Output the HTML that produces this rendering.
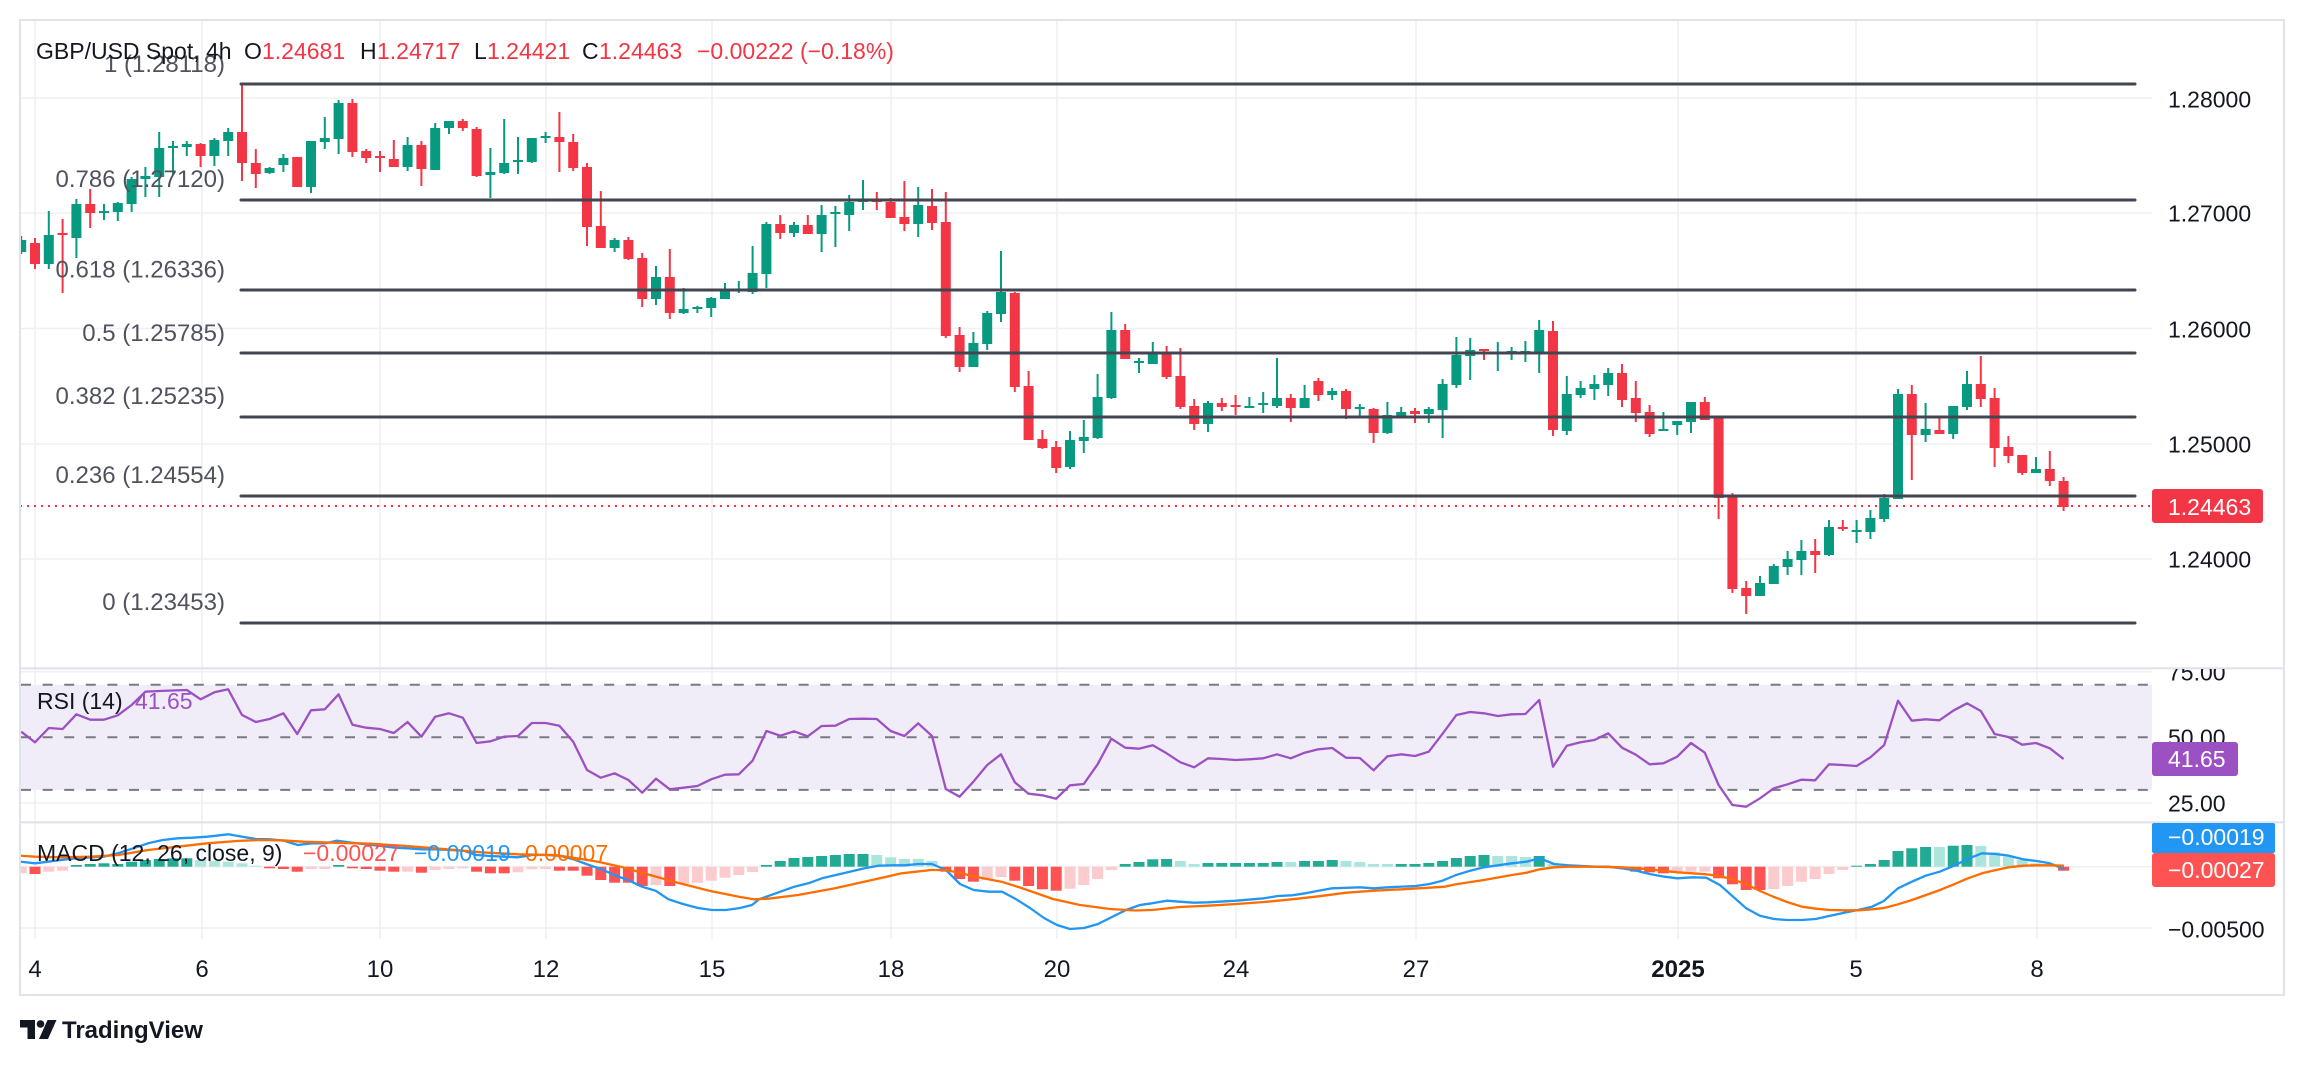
<!DOCTYPE html>
<html><head><meta charset="utf-8"><style>html,body{margin:0;padding:0;background:#fff;}svg{display:block;}text{font-family:"Liberation Sans",Arial,sans-serif;}</style></head><body>
<svg width="2304" height="1066" viewBox="0 0 2304 1066" xmlns="http://www.w3.org/2000/svg">
<defs>
<clipPath id="cm"><rect x="21" y="21" width="2131" height="647"/></clipPath>
<clipPath id="cr"><rect x="21" y="669" width="2262" height="153"/></clipPath>
<clipPath id="cd"><rect x="21" y="823" width="2131" height="116"/></clipPath>
</defs>
<rect width="2304" height="1066" fill="#fff"/>
<!-- grid -->
<path d="M35 21V939M202 21V939M380 21V939M546 21V939M712 21V939M891 21V939M1057 21V939M1236 21V939M1416 21V939M1678 21V939M1856 21V939M2037 21V939" stroke="#eef0f3" stroke-width="1.6" fill="none"/>
<path d="M21 98H2152M21 213H2152M21 328.5H2152M21 444H2152M21 559H2152M21 671.7H2152M21 803H2152M21 866.7H2152M21 928H2152" stroke="#eef0f3" stroke-width="1.6" fill="none"/>
<!-- RSI band -->
<rect x="21" y="684.8" width="2131" height="105.1" fill="#f1edf8"/>
<path d="M21 684.8H2152M21 737.3H2152M21 789.9H2152" stroke="#787b86" stroke-width="2" stroke-dasharray="10 11.6" fill="none"/>
<!-- frame & separators -->
<rect x="20" y="20" width="2264" height="975" fill="none" stroke="#e0e3eb" stroke-width="2"/>
<path d="M20 668.3H2284M20 822.3H2284" stroke="#e0e3eb" stroke-width="2.2"/>
<g clip-path="url(#cm)">
<path d="M20 506H2152" stroke="#f23645" stroke-width="2" stroke-dasharray="2 5"/>
<path fill="#089981" d="M20.2 236h2V254h-2ZM16.2 240h10V252h-10ZM47.8 211h2V269h-2ZM43.8 235h10V264h-10ZM75.4 199h2V258h-2ZM71.4 204h10V238h-10ZM103 204h2V220h-2ZM99 211h10V213h-10ZM116.8 202h2V221h-2ZM112.8 203h10V212h-10ZM130.6 177h2V212h-2ZM126.6 179h10V204h-10ZM144.4 167h2V197h-2ZM140.4 176h10V179h-10ZM158.2 132h2V197h-2ZM154.2 148h10V177h-10ZM172 141h2V175h-2ZM168 146h10V148h-10ZM185.8 141h2V156h-2ZM181.8 144h10V147h-10ZM213.4 138h2V166h-2ZM209.4 140h10V156h-10ZM227.2 128h2V156h-2ZM223.2 132h10V141h-10ZM268.6 167h2V174h-2ZM264.6 168h10V173h-10ZM282.4 154h2V172h-2ZM278.4 158h10V165h-10ZM310 141h2V193h-2ZM306 141h10V187h-10ZM323.8 117h2V149h-2ZM319.8 138h10V142h-10ZM337.6 100h2V154h-2ZM333.6 103h10V139h-10ZM406.6 137h2V171h-2ZM402.6 145h10V167h-10ZM434.2 123h2V170h-2ZM430.2 128h10V170h-10ZM448 121h2V134h-2ZM444 121h10V128h-10ZM489.4 148h2V198h-2ZM485.4 172h10V175h-10ZM503.2 119h2V174h-2ZM499.2 163h10V173h-10ZM517 137h2V174h-2ZM513 160h10V162h-10ZM530.8 138h2V163h-2ZM526.8 138h10V162h-10ZM544.6 132h2V143h-2ZM540.6 136h10V138h-10ZM613.6 238h2V252h-2ZM609.6 240h10V248h-10ZM655 266h2V305h-2ZM651 277h10V299h-10ZM682.6 288h2V314h-2ZM678.6 309h10V313h-10ZM696.4 306h2V313h-2ZM692.4 307h10V309h-10ZM710.2 297h2V317h-2ZM706.2 298h10V308h-10ZM724 283h2V299h-2ZM720 291h10V299h-10ZM737.8 281h2V293h-2ZM733.8 289h10V291h-10ZM751.6 246h2V294h-2ZM747.6 273h10V292h-10ZM765.4 222h2V288h-2ZM761.4 224h10V274h-10ZM793 222h2V237h-2ZM789 225h10V233h-10ZM820.6 205h2V252h-2ZM816.6 215h10V234h-10ZM834.4 206h2V247h-2ZM830.4 212h10V214h-10ZM848.2 195h2V231h-2ZM844.2 202h10V215h-10ZM862 180h2V210h-2ZM858 200h10V202h-10ZM917.2 187h2V237h-2ZM913.2 205h10V224h-10ZM972.4 332h2V367h-2ZM968.4 343h10V367h-10ZM986.2 311h2V350h-2ZM982.2 313h10V344h-10ZM1000 251h2V322h-2ZM996 292h10V314h-10ZM1069 431h2V469h-2ZM1065 440h10V467h-10ZM1082.8 420h2V453h-2ZM1078.8 437h10V441h-10ZM1096.6 374h2V439h-2ZM1092.6 397h10V438h-10ZM1110.4 312h2V399h-2ZM1106.4 330h10V398h-10ZM1138 358h2V373h-2ZM1134 361h10V363h-10ZM1151.8 342h2V364h-2ZM1147.8 354h10V364h-10ZM1207 401h2V432h-2ZM1203 403h10V424h-10ZM1248.4 397h2V408h-2ZM1244.4 406h10V408h-10ZM1262.2 392h2V413h-2ZM1258.2 403h10V405h-10ZM1276 358h2V408h-2ZM1272 398h10V406h-10ZM1303.6 385h2V408h-2ZM1299.6 398h10V408h-10ZM1331.2 388h2V400h-2ZM1327.2 391h10V395h-10ZM1358.8 404h2V416h-2ZM1354.8 407h10V409h-10ZM1386.4 402h2V434h-2ZM1382.4 415h10V433h-10ZM1400.2 407h2V417h-2ZM1396.2 412h10V416h-10ZM1427.8 407h2V423h-2ZM1423.8 409h10V414h-10ZM1441.6 379h2V438h-2ZM1437.6 384h10V410h-10ZM1455.4 337h2V388h-2ZM1451.4 355h10V385h-10ZM1469.2 338h2V380h-2ZM1465.2 350h10V356h-10ZM1496.8 342h2V371h-2ZM1492.8 352h10V354h-10ZM1510.6 347h2V360h-2ZM1506.6 351h10V353h-10ZM1524.4 341h2V362h-2ZM1520.4 351h10V353h-10ZM1538.2 320h2V373h-2ZM1534.2 330h10V353h-10ZM1565.8 376h2V435h-2ZM1561.8 394h10V431h-10ZM1579.6 381h2V398h-2ZM1575.6 388h10V395h-10ZM1593.4 375h2V400h-2ZM1589.4 384h10V389h-10ZM1607.2 368h2V396h-2ZM1603.2 373h10V385h-10ZM1662.4 412h2V431h-2ZM1658.4 429h10V431h-10ZM1676.2 421h2V435h-2ZM1672.2 421h10V425h-10ZM1690 402h2V433h-2ZM1686 402h10V422h-10ZM1759 576h2V596h-2ZM1755 583h10V596h-10ZM1772.8 564h2V584h-2ZM1768.8 566h10V584h-10ZM1786.6 551h2V575h-2ZM1782.6 559h10V567h-10ZM1800.4 540h2V575h-2ZM1796.4 551h10V560h-10ZM1828 520h2V556h-2ZM1824 527h10V555h-10ZM1855.6 520h2V543h-2ZM1851.6 530h10V532h-10ZM1869.4 510h2V539h-2ZM1865.4 518h10V532h-10ZM1883.2 494h2V522h-2ZM1879.2 498h10V519h-10ZM1897 389h2V499h-2ZM1893 394h10V499h-10ZM1924.6 403h2V442h-2ZM1920.6 429h10V435h-10ZM1952.2 406h2V439h-2ZM1948.2 406h10V434h-10ZM1966 371h2V410h-2ZM1962 384h10V407h-10ZM2035 457h2V473h-2ZM2031 469h10V473h-10Z"/>
<path fill="#f23645" d="M34 238h2V269h-2ZM30 243h10V264h-10ZM61.6 219h2V293h-2ZM57.6 233h10V235h-10ZM89.2 189h2V228h-2ZM85.2 204h10V213h-10ZM199.6 143h2V167h-2ZM195.6 144h10V156h-10ZM241 84h2V181h-2ZM237 132h10V163h-10ZM254.8 149h2V188h-2ZM250.8 163h10V174h-10ZM296.2 157h2V187h-2ZM292.2 157h10V187h-10ZM351.4 99h2V157h-2ZM347.4 103h10V152h-10ZM365.2 149h2V163h-2ZM361.2 151h10V158h-10ZM379 151h2V172h-2ZM375 156h10V158h-10ZM392.8 140h2V167h-2ZM388.8 159h10V167h-10ZM420.4 141h2V186h-2ZM416.4 145h10V169h-10ZM461.8 119h2V131h-2ZM457.8 121h10V128h-10ZM475.6 127h2V177h-2ZM471.6 129h10V176h-10ZM558.4 112h2V172h-2ZM554.4 137h10V142h-10ZM572.2 134h2V171h-2ZM568.2 142h10V168h-10ZM586 163h2V246h-2ZM582 167h10V227h-10ZM599.8 191h2V248h-2ZM595.8 226h10V248h-10ZM627.4 237h2V260h-2ZM623.4 240h10V259h-10ZM641.2 253h2V307h-2ZM637.2 258h10V299h-10ZM668.8 249h2V319h-2ZM664.8 277h10V313h-10ZM779.2 215h2V239h-2ZM775.2 224h10V233h-10ZM806.8 215h2V234h-2ZM802.8 225h10V234h-10ZM875.8 192h2V210h-2ZM871.8 200h10V202h-10ZM889.6 198h2V218h-2ZM885.6 202h10V218h-10ZM903.4 181h2V231h-2ZM899.4 217h10V224h-10ZM931 189h2V230h-2ZM927 206h10V223h-10ZM944.8 192h2V338h-2ZM940.8 222h10V336h-10ZM958.6 327h2V372h-2ZM954.6 335h10V367h-10ZM1013.8 292h2V392h-2ZM1009.8 293h10V387h-10ZM1027.6 371h2V440h-2ZM1023.6 386h10V440h-10ZM1041.4 430h2V449h-2ZM1037.4 439h10V448h-10ZM1055.2 441h2V473h-2ZM1051.2 447h10V468h-10ZM1124.2 324h2V359h-2ZM1120.2 330h10V359h-10ZM1165.6 346h2V379h-2ZM1161.6 354h10V377h-10ZM1179.4 348h2V409h-2ZM1175.4 376h10V407h-10ZM1193.2 399h2V430h-2ZM1189.2 406h10V424h-10ZM1220.8 398h2V411h-2ZM1216.8 403h10V407h-10ZM1234.6 395h2V415h-2ZM1230.6 405h10V407h-10ZM1289.8 394h2V422h-2ZM1285.8 398h10V408h-10ZM1317.4 378h2V401h-2ZM1313.4 381h10V395h-10ZM1345 389h2V419h-2ZM1341 391h10V409h-10ZM1372.6 408h2V443h-2ZM1368.6 409h10V433h-10ZM1414 408h2V423h-2ZM1410 411h10V414h-10ZM1483 349h2V360h-2ZM1479 349h10V351h-10ZM1552 321h2V436h-2ZM1548 331h10V430h-10ZM1621 364h2V407h-2ZM1617 373h10V400h-10ZM1634.8 381h2V422h-2ZM1630.8 398h10V413h-10ZM1648.6 405h2V437h-2ZM1644.6 412h10V434h-10ZM1703.8 397h2V420h-2ZM1699.8 402h10V420h-10ZM1717.6 416h2V519h-2ZM1713.6 418h10V498h-10ZM1731.4 493h2V593h-2ZM1727.4 497h10V589h-10ZM1745.2 581h2V614h-2ZM1741.2 588h10V596h-10ZM1814.2 539h2V573h-2ZM1810.2 551h10V555h-10ZM1841.8 520h2V531h-2ZM1837.8 527h10V529h-10ZM1910.8 385h2V480h-2ZM1906.8 394h10V435h-10ZM1938.4 416h2V434h-2ZM1934.4 430h10V434h-10ZM1979.8 356h2V407h-2ZM1975.8 384h10V399h-10ZM1993.6 388h2V467h-2ZM1989.6 398h10V448h-10ZM2007.4 436h2V463h-2ZM2003.4 447h10V456h-10ZM2021.2 455h2V475h-2ZM2017.2 455h10V473h-10ZM2048.8 451h2V486h-2ZM2044.8 469h10V481h-10ZM2062.6 477h2V511h-2ZM2058.6 481h10V507h-10Z"/>
<path d="M241 84H2135M241 200H2135M241 290H2135M241 353H2135M241 417H2135M241 496H2135M241 623H2135" stroke="#434651" stroke-width="3" stroke-linecap="round" fill="none"/>
</g>
<!-- fib labels -->
<g font-size="24" fill="#50535e" text-anchor="end">
<text x="225" y="72">1 (1.28118)</text>
<text x="225" y="187">0.786 (1.27120)</text>
<text x="225" y="277.5">0.618 (1.26336)</text>
<text x="225" y="341">0.5 (1.25785)</text>
<text x="225" y="404">0.382 (1.25235)</text>
<text x="225" y="483">0.236 (1.24554)</text>
<text x="225" y="610">0 (1.23453)</text>
</g>
<!-- header -->
<g font-size="23">
<text x="36" y="59" fill="#131722">GBP/USD Spot, 4h</text>
<text x="244" y="59" fill="#131722">O</text><text x="262" y="59" fill="#f23645">1.24681</text>
<text x="360" y="59" fill="#131722">H</text><text x="377" y="59" fill="#f23645">1.24717</text>
<text x="474" y="59" fill="#131722">L</text><text x="487" y="59" fill="#f23645">1.24421</text>
<text x="582" y="59" fill="#131722">C</text><text x="599" y="59" fill="#f23645">1.24463</text>
<text x="697" y="59" fill="#f23645">−0.00222 (−0.18%)</text>
</g>
<!-- RSI -->
<g clip-path="url(#cr)">
<polyline fill="none" stroke="#9c51c2" stroke-width="2.3" stroke-linejoin="round" points="21.2,731.7 35,742.3 48.8,728 62.6,729 76.4,714.3 90.2,719.7 104,719.7 117.8,715.3 131.6,705 145.4,691.7 159.2,691 173,690.5 186.8,690 200.6,699.3 214.4,692.3 228.2,689.3 242,715 255.8,722 269.6,719 283.4,713.3 297.2,734 311,710.3 324.8,709.3 338.6,694.3 352.4,724.7 366.2,727.7 380,729 393.8,733 407.6,722 421.4,736.7 435.2,716.7 449,713.3 462.8,717.7 476.6,743 490.4,741.3 504.2,736.7 518,736 531.8,723 545.6,723 559.4,725.7 573.2,741.7 587,770 600.8,777.7 614.6,773.3 628.4,780 642.2,792.7 656,778.7 669.8,789.3 683.6,787.7 697.4,786 711.2,779.3 725,774.7 738.8,774.3 752.6,760.7 766.4,731 780.2,735.7 794,731.3 807.8,736.3 821.6,726 835.4,725.7 849.2,719 863,718.7 876.8,719 890.6,731 904.4,736 918.2,723.3 932,736 945.8,789 959.6,796.7 973.4,781.7 987.2,765 1001,754.3 1014.8,782.3 1028.6,793.7 1042.4,795.3 1056.2,798.7 1070,785.3 1083.8,784 1097.6,764.3 1111.4,738.7 1125.2,747.7 1139,748.7 1152.8,745.3 1166.6,753.3 1180.4,762.3 1194.2,767.3 1208,758.3 1221.8,759 1235.6,760 1249.4,759.3 1263.2,758.3 1277,754.3 1290.8,758.3 1304.6,752.7 1318.4,749.3 1332.2,748 1346,757.7 1359.8,758 1373.6,770.3 1387.4,756.3 1401.2,754.3 1415,756 1428.8,751.7 1442.6,733.7 1456.4,715 1470.2,712 1484,713.3 1497.8,716 1511.6,714.3 1525.4,714 1539.2,700 1553,766.7 1566.8,745.7 1580.6,742.3 1594.4,740 1608.2,733.3 1622,747.7 1635.8,754.7 1649.6,764.3 1663.4,763.3 1677.2,756.7 1691,743 1704.8,752.7 1718.6,785 1732.4,805 1746.2,806.7 1760,798.3 1773.8,788.3 1787.6,784.3 1801.4,779.7 1815.2,780.3 1829,764.3 1842.8,765 1856.6,766 1870.4,757.3 1884.2,745 1898,700.7 1911.8,720.7 1925.6,719.3 1939.4,720.3 1953.2,710.7 1967,703.3 1980.8,711 1994.6,734 2008.4,737 2022.2,744.7 2036,743 2049.8,748.3 2063.6,759"/>
<g font-size="23" fill="#131722">
<text x="2168" y="680.7">75.00</text>
<text x="2168" y="745.5">50.00</text>
<text x="2168" y="811.7">25.00</text>
</g>
<rect x="2152" y="742" width="86" height="34" rx="3" fill="#9c51c2"/>
<text x="2168" y="767" font-size="23" fill="#fff">41.65</text>
</g>
<text x="37" y="709" font-size="23" fill="#131722">RSI (14)</text>
<text x="135" y="709" font-size="23" fill="#9c51c2">41.65</text>
<!-- MACD -->
<g clip-path="url(#cd)">
<g fill="#22ab94">
<rect x="70.9" y="865" width="11" height="1.7"/><rect x="84.7" y="864" width="11" height="2.7"/><rect x="98.5" y="863.3" width="11" height="3.4"/><rect x="112.3" y="864" width="11" height="2.7"/><rect x="126.1" y="861.7" width="11" height="5"/><rect x="139.9" y="860" width="11" height="6.7"/><rect x="153.7" y="859" width="11" height="7.7"/><rect x="167.5" y="858.3" width="11" height="8.4"/><rect x="181.3" y="858.3" width="11" height="8.4"/><rect x="333.1" y="865" width="11" height="1.7"/><rect x="760.9" y="865" width="11" height="1.7"/><rect x="774.7" y="861" width="11" height="5.7"/><rect x="788.5" y="858" width="11" height="8.7"/><rect x="802.3" y="857" width="11" height="9.7"/><rect x="816.1" y="856" width="11" height="10.7"/><rect x="829.9" y="855" width="11" height="11.7"/><rect x="843.7" y="854" width="11" height="12.7"/><rect x="857.5" y="854" width="11" height="12.7"/><rect x="1119.7" y="864" width="11" height="2.7"/><rect x="1133.5" y="862" width="11" height="4.7"/><rect x="1147.3" y="859.3" width="11" height="7.4"/><rect x="1161.1" y="859" width="11" height="7.7"/><rect x="1202.5" y="863" width="11" height="3.7"/><rect x="1216.3" y="863" width="11" height="3.7"/><rect x="1230.1" y="863" width="11" height="3.7"/><rect x="1243.9" y="863" width="11" height="3.7"/><rect x="1257.7" y="863" width="11" height="3.7"/><rect x="1271.5" y="862" width="11" height="4.7"/><rect x="1299.1" y="861" width="11" height="5.7"/><rect x="1312.9" y="861" width="11" height="5.7"/><rect x="1326.7" y="860" width="11" height="6.7"/><rect x="1395.7" y="864" width="11" height="2.7"/><rect x="1409.5" y="864" width="11" height="2.7"/><rect x="1423.3" y="863" width="11" height="3.7"/><rect x="1437.1" y="861" width="11" height="5.7"/><rect x="1450.9" y="858" width="11" height="8.7"/><rect x="1464.7" y="856" width="11" height="10.7"/><rect x="1478.5" y="855" width="11" height="11.7"/><rect x="1533.7" y="856" width="11" height="10.7"/><rect x="1851.1" y="865.7" width="11" height="1"/><rect x="1864.9" y="864" width="11" height="2.7"/><rect x="1878.7" y="860" width="11" height="6.7"/><rect x="1892.5" y="851" width="11" height="15.7"/><rect x="1906.3" y="848.3" width="11" height="18.4"/><rect x="1920.1" y="847" width="11" height="19.7"/><rect x="1947.7" y="845.7" width="11" height="21"/><rect x="1961.5" y="845" width="11" height="21.7"/>
</g>
<g fill="#ace5dc">
<rect x="195.1" y="860" width="11" height="6.7"/><rect x="208.9" y="861" width="11" height="5.7"/><rect x="222.7" y="861.7" width="11" height="5"/><rect x="236.5" y="863.3" width="11" height="3.4"/><rect x="250.3" y="865.7" width="11" height="1"/><rect x="871.3" y="855" width="11" height="11.7"/><rect x="885.1" y="857.3" width="11" height="9.4"/><rect x="898.9" y="859" width="11" height="7.7"/><rect x="912.7" y="859" width="11" height="7.7"/><rect x="926.5" y="861" width="11" height="5.7"/><rect x="1174.9" y="861" width="11" height="5.7"/><rect x="1188.7" y="864" width="11" height="2.7"/><rect x="1285.3" y="862" width="11" height="4.7"/><rect x="1340.5" y="861" width="11" height="5.7"/><rect x="1354.3" y="862" width="11" height="4.7"/><rect x="1368.1" y="864" width="11" height="2.7"/><rect x="1381.9" y="864" width="11" height="2.7"/><rect x="1492.3" y="856" width="11" height="10.7"/><rect x="1506.1" y="856" width="11" height="10.7"/><rect x="1519.9" y="857" width="11" height="9.7"/><rect x="1547.5" y="864" width="11" height="2.7"/><rect x="1561.3" y="865.7" width="11" height="1"/><rect x="1575.1" y="866" width="11" height="0.7"/><rect x="1933.9" y="847" width="11" height="19.7"/><rect x="1975.3" y="846" width="11" height="20.7"/><rect x="1989.1" y="852.3" width="11" height="14.4"/><rect x="2002.9" y="856.7" width="11" height="10"/><rect x="2016.7" y="860" width="11" height="6.7"/><rect x="2030.5" y="863.3" width="11" height="3.4"/><rect x="2044.3" y="865.7" width="11" height="1"/>
</g>
<g fill="#ff5252">
<rect x="29.5" y="866.7" width="11" height="7.3"/><rect x="264.1" y="866.7" width="11" height="1.6"/><rect x="277.9" y="866.7" width="11" height="2.3"/><rect x="291.7" y="866.7" width="11" height="5"/><rect x="346.9" y="866.7" width="11" height="1.6"/><rect x="360.7" y="866.7" width="11" height="2.3"/><rect x="374.5" y="866.7" width="11" height="4"/><rect x="388.3" y="866.7" width="11" height="5"/><rect x="415.9" y="866.7" width="11" height="6"/><rect x="471.1" y="866.7" width="11" height="5"/><rect x="484.9" y="866.7" width="11" height="6.6"/><rect x="498.7" y="866.7" width="11" height="6.6"/><rect x="553.9" y="866.7" width="11" height="4"/><rect x="567.7" y="866.7" width="11" height="4"/><rect x="581.5" y="866.7" width="11" height="9"/><rect x="595.3" y="866.7" width="11" height="13.3"/><rect x="609.1" y="866.7" width="11" height="16"/><rect x="622.9" y="866.7" width="11" height="16"/><rect x="636.7" y="866.7" width="11" height="19.3"/><rect x="664.3" y="866.7" width="11" height="19.3"/><rect x="940.3" y="866.7" width="11" height="5"/><rect x="954.1" y="866.7" width="11" height="12.3"/><rect x="967.9" y="866.7" width="11" height="15"/><rect x="1009.3" y="866.7" width="11" height="14"/><rect x="1023.1" y="866.7" width="11" height="19.3"/><rect x="1036.9" y="866.7" width="11" height="22.6"/><rect x="1050.7" y="866.7" width="11" height="24"/><rect x="1630.3" y="866.7" width="11" height="5"/><rect x="1644.1" y="866.7" width="11" height="5.6"/><rect x="1657.9" y="866.7" width="11" height="6.6"/><rect x="1713.1" y="866.7" width="11" height="11.6"/><rect x="1726.9" y="866.7" width="11" height="17.6"/><rect x="1740.7" y="866.7" width="11" height="23.3"/><rect x="1754.5" y="866.7" width="11" height="23.3"/><rect x="2058.1" y="866.7" width="11" height="4"/>
</g>
<g fill="#fccbcd">
<rect x="15.7" y="866.7" width="11" height="6.6"/><rect x="43.3" y="866.7" width="11" height="5"/><rect x="57.1" y="866.7" width="11" height="4"/><rect x="305.5" y="866.7" width="11" height="2.3"/><rect x="319.3" y="866.7" width="11" height="2.3"/><rect x="402.1" y="866.7" width="11" height="5"/><rect x="429.7" y="866.7" width="11" height="3.3"/><rect x="443.5" y="866.7" width="11" height="2.3"/><rect x="457.3" y="866.7" width="11" height="1.6"/><rect x="512.5" y="866.7" width="11" height="5.6"/><rect x="526.3" y="866.7" width="11" height="2.6"/><rect x="540.1" y="866.7" width="11" height="2.3"/><rect x="650.5" y="866.7" width="11" height="18.3"/><rect x="678.1" y="866.7" width="11" height="17.3"/><rect x="691.9" y="866.7" width="11" height="16"/><rect x="705.7" y="866.7" width="11" height="14"/><rect x="719.5" y="866.7" width="11" height="11"/><rect x="733.3" y="866.7" width="11" height="8.3"/><rect x="747.1" y="866.7" width="11" height="5.3"/><rect x="981.7" y="866.7" width="11" height="13.3"/><rect x="995.5" y="866.7" width="11" height="10.3"/><rect x="1064.5" y="866.7" width="11" height="22"/><rect x="1078.3" y="866.7" width="11" height="18.3"/><rect x="1092.1" y="866.7" width="11" height="12.3"/><rect x="1105.9" y="866.7" width="11" height="3.3"/><rect x="1602.7" y="866.7" width="11" height="0.6"/><rect x="1616.5" y="866.7" width="11" height="1.6"/><rect x="1671.7" y="866.7" width="11" height="5"/><rect x="1685.5" y="866.7" width="11" height="5"/><rect x="1699.3" y="866.7" width="11" height="5"/><rect x="1768.3" y="866.7" width="11" height="22.3"/><rect x="1782.1" y="866.7" width="11" height="19.3"/><rect x="1795.9" y="866.7" width="11" height="15"/><rect x="1809.7" y="866.7" width="11" height="12.3"/><rect x="1823.5" y="866.7" width="11" height="7.3"/><rect x="1837.3" y="866.7" width="11" height="3.3"/>
</g>
<polyline fill="none" stroke="#2196f3" stroke-width="2.3" stroke-linejoin="round" points="20.3,861.7 35.1,863.3 48.1,861.7 61,860 75.8,858.3 90.6,857.3 103.6,856.7 117.6,853.3 133.2,848.3 148,843.3 162.8,840 177.6,838.3 192.4,837.7 207.2,836.7 228.3,834.3 242.3,836.7 256,839 270,839.3 283.8,840.7 297.8,845 311.9,843.3 325.6,843.3 336.7,840.7 351.5,842.7 366.3,844.3 381,846 395.1,847.7 408.1,848.3 421.8,849.3 435.8,849.3 449.5,850 463.6,850.7 476.5,855 490.2,856 505,856.7 518,857.3 532.7,855 546.8,855 560.5,856 573.4,859.3 589,865 602,869.3 614,875 628,880 642,886.7 655.5,890.7 668.5,899.3 683,904 698,908 712,910 726,910 740,908 752,905 759,899.3 775.8,893.3 794.3,886.7 808.3,883.3 822,878.3 836,875 849.8,871.7 864.6,868.3 878.3,865.7 892.3,865.3 904.5,865.3 918.2,864 931.9,864 946,870 960,884 973.7,890 988.5,891.7 1002.2,891.7 1016.2,899.3 1030,908 1044,918 1057,925 1070,929 1084,928 1098,924 1112,917 1126,910 1140,905 1152,903.3 1166.8,900.7 1179.7,901.7 1193.8,902.7 1208.2,902.3 1236.4,900.7 1264.1,898.3 1277.8,896 1291.8,895.3 1305.5,893.3 1318.5,890.7 1332.2,888.3 1359.9,887.3 1374,888.3 1388,887.3 1415.8,886 1429.5,884 1442.4,880.7 1456.1,875 1470.2,870.7 1483.9,867.3 1497.9,865.3 1512,863.3 1526.4,861.7 1539.7,858.3 1554.1,864 1568.2,865.3 1595.2,866.7 1607.8,866.7 1621.8,868.3 1636.6,870.7 1649.6,874 1664.4,876.7 1677.3,878.3 1692.1,877.3 1706.2,877.7 1719.9,885 1733.2,896.7 1746.2,908.3 1759.9,915.7 1774,919 1786.9,920 1801.7,920 1815.7,919 1830.2,915.7 1844.2,912.7 1857.9,910 1872,906.7 1883.8,901 1897.9,888.3 1911.9,881.7 1925.6,875.7 1939.7,871.7 1954.1,865.7 1967.4,859 1981.9,853.3 1995.9,854 2008.9,855.7 2022.9,859.3 2036.6,861 2049.6,863.3 2064.4,869"/>
<polyline fill="none" stroke="#ff6d00" stroke-width="2.3" stroke-linejoin="round" points="20.3,855.7 35.1,856.7 61,857.3 90.6,856.7 118.4,855 148,850 177.6,846.7 207.2,843.3 236.8,841 259,840 281.2,840.3 303.4,841.7 333,842.7 370,843.7 407,846 444,849 481,852.3 518,854.3 555,855 578,858.5 598,861.7 620.4,866.7 650,875 679.6,883.3 709.2,890.7 738.8,896.7 753.6,899.3 768.4,898.7 798,895 835,888.3 872,880 901.6,873.3 931.2,870 946,870 960.8,873.3 983,878.3 1001.4,881.7 1020,887.5 1053,899 1080,905 1110,909 1135,910.5 1152,910 1179.7,907 1208.2,905.7 1236.4,904 1264.1,902 1291.8,899.3 1318.5,896.3 1346.2,892.7 1374,890.7 1401.7,889.3 1429.5,887.7 1444.3,886.7 1456.1,884.3 1483.9,880 1512,875 1526.4,872.7 1539.7,869.3 1554.1,867.3 1568.2,866.7 1595.2,866.7 1621.8,867.3 1636.6,868.3 1649.6,869.3 1677.3,872.3 1692.1,873.3 1706.2,874.3 1719.9,876 1732,879.3 1746,884 1760,891 1774,897 1787,902 1802,906.7 1816,908.7 1830,910 1844,910.3 1858,910.3 1872,909.3 1884,908 1898,904.3 1912,900 1926,895 1940,890 1954,884.3 1967,878.7 1982,873.3 1996,870 2009,867.3 2023,865.7 2037,865.3 2050,865.3 2064,865.7"/>
</g>
<g font-size="23">
<text x="37" y="861" fill="#131722">MACD (12, 26, close, 9)</text>
<text x="303" y="861" fill="#ff5252">−0.00027</text>
<text x="414" y="861" fill="#2196f3">−0.00019</text>
<text x="525" y="861" fill="#ff6d00">0.00007</text>
</g>
<!-- price axis -->
<g font-size="23" fill="#131722">
<text x="2168" y="107.3">1.28000</text>
<text x="2168" y="221.7">1.27000</text>
<text x="2168" y="337.7">1.26000</text>
<text x="2168" y="452.7">1.25000</text>
<text x="2168" y="567.3">1.24000</text>
<text x="2168" y="937.7">−0.00500</text>
</g>
<rect x="2152" y="489" width="111" height="34" rx="3" fill="#f23645"/>
<text x="2168" y="515" font-size="23" fill="#fff">1.24463</text>
<rect x="2152" y="823" width="123" height="30" rx="2" fill="#2196f3"/>
<text x="2168" y="845" font-size="23" fill="#fff">−0.00019</text>
<rect x="2152" y="853" width="123" height="34" rx="3" fill="#ff5252"/>
<text x="2168" y="878" font-size="23" fill="#fff">−0.00027</text>
<!-- time axis -->
<g font-size="24" fill="#131722" text-anchor="middle">
<text x="35" y="977">4</text>
<text x="202" y="977">6</text>
<text x="380" y="977">10</text>
<text x="546" y="977">12</text>
<text x="712" y="977">15</text>
<text x="891" y="977">18</text>
<text x="1057" y="977">20</text>
<text x="1236" y="977">24</text>
<text x="1416" y="977">27</text>
<text x="1678" y="977" font-weight="bold">2025</text>
<text x="1856" y="977">5</text>
<text x="2037" y="977">8</text>
</g>
<!-- logo -->
<path d="M20 1020h15v19h-7.5v-11.5H20z" fill="#131722"/>
<circle cx="40.5" cy="1024" r="3.8" fill="#131722"/>
<path d="M47.5 1020h9l-8.5 19h-9z" fill="#131722"/>
<text x="62" y="1038" font-size="24" font-weight="bold" fill="#131722">TradingView</text>
</svg>
</body></html>
